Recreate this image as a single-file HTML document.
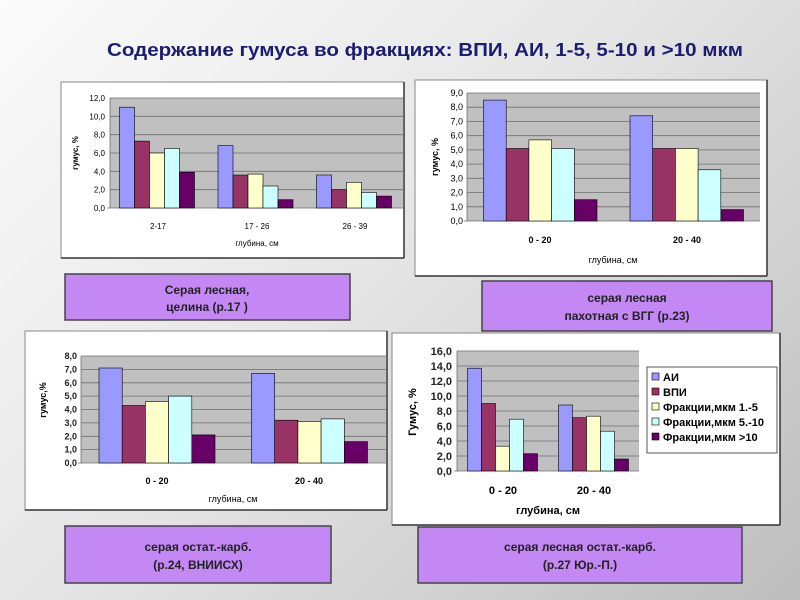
<!DOCTYPE html>
<html><head><meta charset="utf-8"><style>
html,body{margin:0;padding:0;width:800px;height:600px;overflow:hidden}
body{background:linear-gradient(135deg,#fbfbfb 0%,#e6e6e6 45%,#bdbdbd 100%)}
svg{position:absolute;left:0;top:0}
text{font-family:"Liberation Sans",sans-serif}
</style></head><body>
<svg width="800" height="600" viewBox="0 0 800 600">
<defs>
<style>
.a{fill:#9999ff;stroke:#000;stroke-width:.6}.b{fill:#993366;stroke:#000;stroke-width:.6}.c{fill:#ffffcc;stroke:#000;stroke-width:.6}.d{fill:#ccffff;stroke:#000;stroke-width:.6}.e{fill:#660066;stroke:#000;stroke-width:.6}
.g{stroke:#6e6e6e;stroke-width:.8}
.lab{fill:#c488f4;stroke:#444;stroke-width:1.5}
.lt{font-size:12px;font-weight:bold;fill:#222;text-anchor:middle}
.bx{fill:#fff;stroke:#888;stroke-width:1}
.sh{stroke:#333;stroke-width:1.5}
</style>
</defs>
<text x="425" y="56" font-size="18" font-weight="bold" fill="#1c1c70" text-anchor="middle" textLength="636" lengthAdjust="spacingAndGlyphs">Содержание гумуса во фракциях: ВПИ, АИ, 1-5, 5-10 и &gt;10 мкм</text>

<!-- Chart 1 -->
<rect class="bx" x="61" y="82" width="343" height="176"/>
<g class="sh"><line x1="404" y1="82" x2="404" y2="258"/><line x1="61" y1="258" x2="404" y2="258"/></g>
<rect x="110" y="98" width="293" height="110" fill="#c0c0c0"/>
<g class="g"><line x1="110" x2="403" y1="98" y2="98"/><line x1="110" x2="403" y1="116.3" y2="116.3"/><line x1="110" x2="403" y1="134.7" y2="134.7"/><line x1="110" x2="403" y1="153" y2="153"/><line x1="110" x2="403" y1="171.3" y2="171.3"/><line x1="110" x2="403" y1="189.7" y2="189.7"/><line x1="107" x2="403" y1="208" y2="208"/><line x1="110" x2="110" y1="98" y2="208"/></g>
<g transform="translate(0,208)">
<rect class="a" x="119.5" y="-100.8" width="15" height="100.8"/><rect class="b" x="134.5" y="-66.9" width="15" height="66.9"/><rect class="c" x="149.5" y="-55" width="15" height="55"/><rect class="d" x="164.5" y="-59.6" width="15" height="59.6"/><rect class="e" x="179.5" y="-35.8" width="15" height="35.8"/>
<rect class="a" x="218" y="-62.3" width="15" height="62.3"/><rect class="b" x="233" y="-33" width="15" height="33"/><rect class="c" x="248" y="-33.9" width="15" height="33.9"/><rect class="d" x="263" y="-22" width="15" height="22"/><rect class="e" x="278" y="-8.3" width="15" height="8.3"/>
<rect class="a" x="316.5" y="-33" width="15" height="33"/><rect class="b" x="331.5" y="-18.3" width="15" height="18.3"/><rect class="c" x="346.5" y="-25.7" width="15" height="25.7"/><rect class="d" x="361.5" y="-15.6" width="15" height="15.6"/><rect class="e" x="376.5" y="-11.9" width="15" height="11.9"/>
</g>
<g font-size="8" text-anchor="end" fill="#000"><text x="105" y="101">12,0</text><text x="105" y="119.3">10,0</text><text x="105" y="137.7">8,0</text><text x="105" y="156">6,0</text><text x="105" y="174.3">4,0</text><text x="105" y="192.7">2,0</text><text x="105" y="211">0,0</text></g>
<g font-size="8" text-anchor="middle"><text x="158" y="229">2-17</text><text x="257" y="229">17 - 26</text><text x="355" y="229">26 - 39</text><text x="257" y="246">глубина, см</text></g>
<text transform="translate(78,153) rotate(-90)" font-size="8" font-weight="bold" text-anchor="middle">гумус, %</text>

<!-- Chart 2 -->
<rect class="bx" x="415" y="80" width="352" height="196"/>
<g class="sh"><line x1="767" y1="80" x2="767" y2="276"/><line x1="415" y1="276" x2="767" y2="276"/></g>
<rect x="467" y="93" width="293" height="128" fill="#c0c0c0"/>
<g class="g"><line x1="467" x2="760" y1="93" y2="93"/><line x1="467" x2="760" y1="107.2" y2="107.2"/><line x1="467" x2="760" y1="121.4" y2="121.4"/><line x1="467" x2="760" y1="135.7" y2="135.7"/><line x1="467" x2="760" y1="149.9" y2="149.9"/><line x1="467" x2="760" y1="164.1" y2="164.1"/><line x1="467" x2="760" y1="178.3" y2="178.3"/><line x1="467" x2="760" y1="192.6" y2="192.6"/><line x1="467" x2="760" y1="206.8" y2="206.8"/><line x1="464" x2="760" y1="221" y2="221"/><line x1="467" x2="467" y1="93" y2="221"/></g>
<g transform="translate(0,221)">
<rect class="a" x="483.5" y="-120.9" width="22.7" height="120.9"/><rect class="b" x="506.2" y="-72.5" width="22.7" height="72.5"/><rect class="c" x="528.9" y="-81.1" width="22.7" height="81.1"/><rect class="d" x="551.6" y="-72.5" width="22.7" height="72.5"/><rect class="e" x="574.3" y="-21.3" width="22.7" height="21.3"/>
<rect class="a" x="630" y="-105.2" width="22.7" height="105.2"/><rect class="b" x="652.7" y="-72.5" width="22.7" height="72.5"/><rect class="c" x="675.4" y="-72.5" width="22.7" height="72.5"/><rect class="d" x="698.1" y="-51.2" width="22.7" height="51.2"/><rect class="e" x="720.8" y="-11.4" width="22.7" height="11.4"/>
</g>
<g font-size="9" text-anchor="end"><text x="463" y="96">9,0</text><text x="463" y="110.2">8,0</text><text x="463" y="124.4">7,0</text><text x="463" y="138.7">6,0</text><text x="463" y="152.9">5,0</text><text x="463" y="167.1">4,0</text><text x="463" y="181.3">3,0</text><text x="463" y="195.6">2,0</text><text x="463" y="209.8">1,0</text><text x="463" y="224">0,0</text></g>
<g font-size="9" font-weight="bold" text-anchor="middle"><text x="540" y="243">0 - 20</text><text x="687" y="243">20 - 40</text><text x="613" y="263" font-weight="normal">глубина, см</text></g>
<text transform="translate(438,157) rotate(-90)" font-size="9" font-weight="bold" text-anchor="middle">гумус, %</text>

<!-- Chart 3 -->
<rect class="bx" x="25" y="331" width="362" height="179"/>
<g class="sh"><line x1="387" y1="331" x2="387" y2="510"/><line x1="25" y1="510" x2="387" y2="510"/></g>
<rect x="81" y="356" width="305" height="107" fill="#c0c0c0"/>
<g class="g"><line x1="81" x2="386" y1="356" y2="356"/><line x1="81" x2="386" y1="369.4" y2="369.4"/><line x1="81" x2="386" y1="382.8" y2="382.8"/><line x1="81" x2="386" y1="396.1" y2="396.1"/><line x1="81" x2="386" y1="409.5" y2="409.5"/><line x1="81" x2="386" y1="422.9" y2="422.9"/><line x1="81" x2="386" y1="436.3" y2="436.3"/><line x1="81" x2="386" y1="449.6" y2="449.6"/><line x1="78" x2="386" y1="463" y2="463"/><line x1="81" x2="81" y1="356" y2="463"/></g>
<g transform="translate(0,463)">
<rect class="a" x="99" y="-95" width="23.2" height="95"/><rect class="b" x="122.2" y="-57.5" width="23.2" height="57.5"/><rect class="c" x="145.4" y="-61.5" width="23.2" height="61.5"/><rect class="d" x="168.6" y="-66.9" width="23.2" height="66.9"/><rect class="e" x="191.8" y="-28.1" width="23.2" height="28.1"/>
<rect class="a" x="251.5" y="-89.6" width="23.2" height="89.6"/><rect class="b" x="274.7" y="-42.8" width="23.2" height="42.8"/><rect class="c" x="297.9" y="-41.5" width="23.2" height="41.5"/><rect class="d" x="321.1" y="-44.1" width="23.2" height="44.1"/><rect class="e" x="344.3" y="-21.4" width="23.2" height="21.4"/>
</g>
<g font-size="9" font-weight="bold" text-anchor="end" fill="#222"><text x="77" y="359">8,0</text><text x="77" y="372.4">7,0</text><text x="77" y="385.8">6,0</text><text x="77" y="399.1">5,0</text><text x="77" y="412.5">4,0</text><text x="77" y="425.9">3,0</text><text x="77" y="439.3">2,0</text><text x="77" y="452.6">1,0</text><text x="77" y="466">0,0</text></g>
<g font-size="9" font-weight="bold" text-anchor="middle"><text x="157" y="484">0 - 20</text><text x="309" y="484">20 - 40</text><text x="233" y="502" font-weight="normal">глубина, см</text></g>
<text transform="translate(46,400) rotate(-90)" font-size="9" font-weight="bold" text-anchor="middle">гумус,%</text>

<!-- Chart 4 -->
<rect class="bx" x="392" y="333" width="388" height="192"/>
<g class="sh"><line x1="780" y1="333" x2="780" y2="525"/><line x1="392" y1="525" x2="780" y2="525"/></g>
<rect x="457" y="351" width="182" height="120" fill="#c0c0c0"/>
<g class="g"><line x1="457" x2="639" y1="351" y2="351"/><line x1="457" x2="639" y1="366" y2="366"/><line x1="457" x2="639" y1="381" y2="381"/><line x1="457" x2="639" y1="396" y2="396"/><line x1="457" x2="639" y1="411" y2="411"/><line x1="457" x2="639" y1="426" y2="426"/><line x1="457" x2="639" y1="441" y2="441"/><line x1="457" x2="639" y1="456" y2="456"/><line x1="454" x2="639" y1="471" y2="471"/><line x1="457" x2="457" y1="351" y2="471"/></g>
<g transform="translate(0,471)">
<rect class="a" x="467.5" y="-102.8" width="14" height="102.8"/><rect class="b" x="481.5" y="-67.5" width="14" height="67.5"/><rect class="c" x="495.5" y="-24.8" width="14" height="24.8"/><rect class="d" x="509.5" y="-51.8" width="14" height="51.8"/><rect class="e" x="523.5" y="-17.3" width="14" height="17.3"/>
<rect class="a" x="558.5" y="-66" width="14" height="66"/><rect class="b" x="572.5" y="-53.3" width="14" height="53.3"/><rect class="c" x="586.5" y="-54.8" width="14" height="54.8"/><rect class="d" x="600.5" y="-39.8" width="14" height="39.8"/><rect class="e" x="614.5" y="-12" width="14" height="12"/>
</g>
<g font-size="11" font-weight="bold" text-anchor="end" fill="#222"><text x="452" y="355">16,0</text><text x="452" y="370">14,0</text><text x="452" y="385">12,0</text><text x="452" y="400">10,0</text><text x="452" y="415">8,0</text><text x="452" y="430">6,0</text><text x="452" y="445">4,0</text><text x="452" y="460">2,0</text><text x="452" y="475">0,0</text></g>
<g font-size="11" font-weight="bold" text-anchor="middle"><text x="503" y="494">0 - 20</text><text x="594" y="494">20 - 40</text><text x="548" y="514">глубина, см</text></g>
<text transform="translate(416,412) rotate(-90)" font-size="11" font-weight="bold" text-anchor="middle">Гумус,  %</text>
<rect x="647" y="367" width="130" height="86" fill="#fff" stroke="#555" stroke-width="1"/>
<g font-size="11" font-weight="bold">
<rect class="a" x="652" y="373" width="7" height="7"/><text x="663" y="381">АИ</text>
<rect class="b" x="652" y="388" width="7" height="7"/><text x="663" y="396">ВПИ</text>
<rect class="c" x="652" y="403" width="7" height="7"/><text x="663" y="411">Фракции,мкм 1.-5</text>
<rect class="d" x="652" y="418" width="7" height="7"/><text x="663" y="426">Фракции,мкм 5.-10</text>
<rect class="e" x="652" y="433" width="7" height="7"/><text x="663" y="441">Фракции,мкм &gt;10</text>
</g>

<!-- Labels -->
<rect class="lab" x="65" y="274" width="285" height="46"/>
<text class="lt" x="207" y="294">Серая лесная,</text><text class="lt" x="207" y="311">целина (р.17 )</text>
<rect class="lab" x="482" y="281" width="290" height="50"/>
<text class="lt" x="627" y="302">серая  лесная</text><text class="lt" x="627" y="320">пахотная с  ВГГ (р.23)</text>
<rect class="lab" x="65" y="526" width="266" height="57"/>
<text class="lt" x="198" y="551">серая остат.-карб.</text><text class="lt" x="198" y="569">(р.24, ВНИИСХ)</text>
<rect class="lab" x="418" y="527" width="324" height="56"/>
<text class="lt" x="580" y="551">серая лесная остат.-карб.</text><text class="lt" x="580" y="569">(р.27 Юр.-П.)</text>
</svg>
</body></html>
